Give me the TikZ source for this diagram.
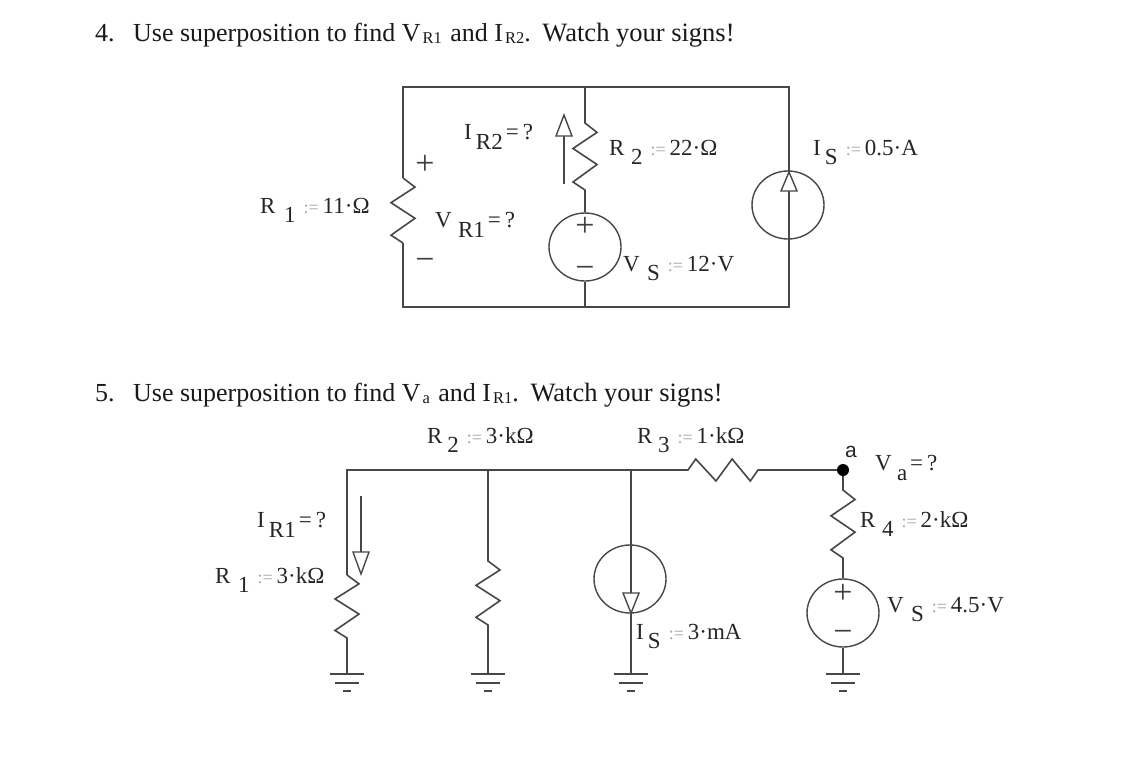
\documentclass[tikz,border=0pt]{standalone}
\usepackage{fontspec}
\setmainfont{Liberation Serif}
\newfontfamily\sansf{Liberation Sans}
\usetikzlibrary{calc,shapes.geometric}

% label pieces: name, gap, subscript, value
\newcommand{\sgn}[4]{#1\hspace{#2}\raisebox{-9pt}{#3}\hspace{8pt}{\color{gray!70}\fontsize{18}{18}\selectfont :=}\hspace{4pt}#4}
\newcommand{\unk}[4]{#1\hspace{#2}\raisebox{-10pt}{#3}\hspace{3pt}=\hspace{4pt}?}
\newcommand{\hsub}[1]{{\fontsize{16.5}{16.5}\selectfont\raisebox{-2.5pt}{#1}}}
\newcommand{\wys}{{\fontsize{26.5}{26.5}\selectfont Watch your signs!}}

\begin{document}
\begin{tikzpicture}[x=1pt,y=-1pt,
    wire/.style={line width=1.6pt,color=black!72},
    thin wire/.style={line width=1.3pt,color=black!72},
    rv/.style={to path={
      -- ($(\tikztostart)!.14!(\tikztotarget)+(12,0)$)
      -- ($(\tikztostart)!.38!(\tikztotarget)+(-12,0)$)
      -- ($(\tikztostart)!.62!(\tikztotarget)+(12,0)$)
      -- ($(\tikztostart)!.88!(\tikztotarget)+(-12,0)$)
      -- (\tikztotarget)}},
    rh/.style={to path={
      -- ($(\tikztostart)!.11!(\tikztotarget)+(0,-11)$)
      -- ($(\tikztostart)!.40!(\tikztotarget)+(0,11)$)
      -- ($(\tikztostart)!.63!(\tikztotarget)+(0,-11)$)
      -- ($(\tikztostart)!.89!(\tikztotarget)+(0,11)$)
      -- (\tikztotarget)}},
    src/.style={draw=black!72,line width=1.4pt,ellipse,inner sep=0pt,minimum width=72pt,minimum height=68pt},
    tip/.style={draw=black!72,line width=1.4pt,fill=white,line join=miter},
    lbl/.style={anchor=base west,inner sep=0pt,outer sep=0pt,font=\fontsize{23}{23}\selectfont,text=black!85},
    head/.style={anchor=base west,inner sep=0pt,outer sep=0pt,font=\fontsize{26}{26}\selectfont,text=black!90},
    sym/.style={anchor=base,yshift=-9pt,inner sep=0pt,font=\fontsize{34}{34}\selectfont,text=black!75},
    gnd/.style={line width=1.5pt,color=black!72},
  ]
\useasboundingbox (0,0) rectangle (1121,763);
\fill[white] (0,0) rectangle (1121,763);

% headings
\node[head] (h4) at (95,41) {4.\hspace{10pt} Use superposition to find V\hspace{2pt}\hsub{R1}\hspace{2pt} and I\hspace{2pt}\hsub{R2}.\hspace{3pt} \wys};
\node[head] (h5) at (95,401) {5.\hspace{10pt} Use superposition to find V\hspace{2pt}\hsub{a}\hspace{2pt} and I\hspace{2pt}\hsub{R1}.\hspace{3pt} \wys};

% ---- circuit 4 ----
\coordinate (tl) at (403,87);
\coordinate (tm) at (585,87);
\coordinate (tr) at (789,87);
\coordinate (bl) at (403,307);
\coordinate (bm) at (585,307);
\coordinate (br) at (789,307);
\coordinate (r1t) at (403,178);
\coordinate (r1b) at (403,243);
\coordinate (r2t) at (585,123);
\coordinate (r2b) at (585,190);
\node[src] (vs1) at (585,247) {};
\node[src] (is1) at (788,205) {};

\draw[wire] (r1t) -- (tl) -- (tr) -- (br) -- (bl) -- (r1b);
\draw[wire] (r1t) to[rv] (r1b);
\draw[wire] (tm) -- (r2t) to[rv] (r2b) -- (vs1);
\draw[wire] (vs1) -- (bm);

\coordinate (is1t) at (789,172);
\coordinate (is1bl) at (781,191);
\coordinate (is1br) at (797,191);
\draw[tip] (is1t) -- (is1bl) -- (is1br) -- cycle;

\coordinate (ir2a) at (564,184);
\coordinate (ir2t) at (564,115);
\coordinate (ir2l) at (556,136);
\coordinate (ir2r) at (572,136);
\draw[thin wire] (ir2a) -- (564,136);
\draw[tip] (ir2t) -- (ir2l) -- (ir2r) -- cycle;

\node[sym] (p1) at (425,165) {+};
\node[sym] (m1) at (425,261) {\textminus};
\node[sym] (p2) at (585,227) {+};
\node[sym] (m2) at (585,269) {\textminus};

\node[lbl] (lr1) at (260,213) {\sgn{R}{8.7pt}{1}{11·Ω}};
\node[lbl] (lir2) at (464,139) {\unk{I}{4.3pt}{R2}{}};
\node[lbl] (lvr1) at (435,227) {\unk{V}{6.4pt}{R1}{}};
\node[lbl] (lr2) at (609,155) {\sgn{R}{6.7pt}{2}{22·Ω}};
\node[lbl] (lis) at (813,155) {\sgn{I}{4.3pt}{S}{0.5·A}};
\node[lbl] (lvs) at (623,271) {\sgn{V}{7.4pt}{S}{12·V}};

% ---- circuit 5 ----
\coordinate (n1) at (347,470);
\coordinate (n2) at (488,470);
\coordinate (n3) at (631,470);
\coordinate (r3l) at (688,470);
\coordinate (r3r) at (758,470);
\node[circle,fill=black,inner sep=0pt,minimum size=12pt] (a) at (843,470) {};
\coordinate (r1t5) at (347,575);
\coordinate (r1b5) at (347,638);
\coordinate (r2t5) at (488,561);
\coordinate (r2b5) at (488,625);
\coordinate (r4t) at (843,490);
\coordinate (r4b) at (843,558);
\node[src] (is5) at (630,579) {};
\node[src] (vs5) at (843,613) {};
\coordinate (g1) at (347,674);
\coordinate (g2) at (488,674);
\coordinate (g3) at (631,674);
\coordinate (g4) at (843,674);

\draw[wire] (r1t5) -- (n1) -- (r3l) to[rh] (r3r) -- (a);
\draw[wire] (r1t5) to[rv] (r1b5) -- (g1);
\draw[wire] (n2) -- (r2t5) to[rv] (r2b5) -- (g2);
\draw[wire] (n3) -- (g3);
\draw[wire] (a) -- (r4t) to[rv] (r4b) -- (vs5);
\draw[wire] (vs5) -- (g4);

\foreach \g in {g1,g2,g3,g4}{
  \draw[gnd] ([xshift=-17pt]\g) -- ([xshift=17pt]\g);
  \draw[gnd] ([xshift=-12pt,yshift=-9pt]\g) -- ([xshift=12pt,yshift=-9pt]\g);
  \draw[gnd] ([xshift=-4pt,yshift=-17pt]\g) -- ([xshift=4pt,yshift=-17pt]\g);
}

\coordinate (is5t) at (631,613);
\coordinate (is5l) at (623,593);
\coordinate (is5r) at (639,593);
\draw[tip] (is5t) -- (is5l) -- (is5r) -- cycle;

\coordinate (ir1a) at (361,496);
\coordinate (ir1t) at (361,574);
\coordinate (ir1l) at (353,552);
\coordinate (ir1r) at (369,552);
\draw[thin wire] (ir1a) -- (361,552);
\draw[tip] (ir1t) -- (ir1l) -- (ir1r) -- cycle;

\node[sym] (p3) at (843,594) {+};
\node[sym] (m3) at (843,633) {\textminus};

\node[lbl] (lr25) at (427,443) {\sgn{R}{5pt}{2}{3·kΩ}};
\node[lbl] (lr35) at (637,443) {\sgn{R}{5.7pt}{3}{1·kΩ}};
\node[lbl] (lir1) at (257,527) {\unk{I}{4.3pt}{R1}{}};
\node[lbl] (lr15) at (215,583) {\sgn{R}{7.7pt}{1}{3·kΩ}};
\node[lbl,font=\sansf\fontsize{21}{21}\selectfont] (la) at (845,457) {a};
\node[lbl] (lva) at (875,470) {\unk{V}{5.4pt}{a}{}};
\node[lbl] (lr4) at (860,527) {\sgn{R}{6.7pt}{4}{2·kΩ}};
\node[lbl] (lvs5) at (887,612) {\sgn{V}{7.4pt}{S}{4.5·V}};
\node[lbl] (lis5) at (636,639) {\sgn{I}{4.3pt}{S}{3·mA}};
\end{tikzpicture}
\end{document}
